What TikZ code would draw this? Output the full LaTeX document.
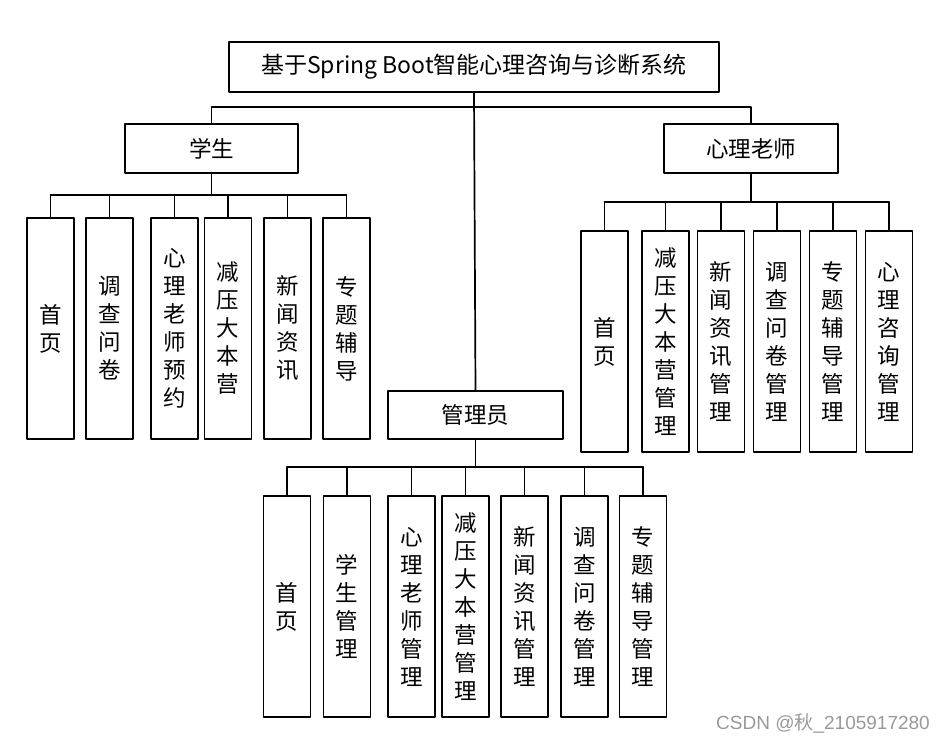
\documentclass[tikz,border=0pt]{standalone}
\usepackage{fontspec}
\setmainfont{Noto Sans CJK SC}
\newfontfamily\cjk{Noto Sans CJK SC}
\newfontfamily\wmfont{Liberation Sans}
\begin{document}
\begin{tikzpicture}[x=1pt, y=-1pt, line join=round, line cap=round, font=\fontsize{22.5}{28}\selectfont]
\tikzset{
  box/.style={draw, line width=1.7pt, inner sep=0pt, align=center},
  leaf/.style={box, minimum width=47pt, minimum height=221pt},
  link/.style={line width=1.7pt}
}
\useasboundingbox (0,0) rectangle (944,741);
% top and second level
\node[box, minimum width=490pt, minimum height=50pt, font=\fontsize{23}{28}\selectfont] (sys) at (474,67) {基于Spring Boot智能心理咨询与诊断系统};
\node[box, minimum width=173pt, minimum height=49pt] (stu) at (211.5,148.5) {学生};
\node[box, minimum width=174pt, minimum height=49pt] (tea) at (751,148.5) {心理老师};
\node[box, minimum width=175pt, minimum height=48pt] (adm) at (475.5,415) {管理员};
% leaves
\foreach \x/\t [count=\i] in {50.5/{首\\页}, 109.5/{调\\查\\问\\卷}, 174.5/{心\\理\\老\\师\\预\\约},
    228/{减\\压\\大\\本\\营}, 287.5/{新\\闻\\资\\讯}, 346.5/{专\\题\\辅\\导}}
  \node[leaf] (s\i) at (\x,328.5) {\t};
\foreach \x/\t [count=\i] in {604.5/{首\\页}, 665.5/{减\\压\\大\\本\\营\\管\\理}, 721/{新\\闻\\资\\讯\\管\\理},
    777/{调\\查\\问\\卷\\管\\理}, 833/{专\\题\\辅\\导\\管\\理}, 889/{心\\理\\咨\\询\\管\\理}}
  \node[leaf] (t\i) at (\x,341.5) {\t};
\foreach \x/\t [count=\i] in {287/{首\\页}, 347/{学\\生\\管\\理}, 411.5/{心\\理\\老\\师\\管\\理},
    465.5/{减\\压\\大\\本\\营\\管\\理}, 524.5/{新\\闻\\资\\讯\\管\\理}, 584.5/{调\\查\\问\\卷\\管\\理}, 643/{专\\题\\辅\\导\\管\\理}}
  \node[leaf] (a\i) at (\x,606.5) {\t};
% buses
\coordinate (mbus) at (0,107);
\coordinate (sbus) at (0,195);
\coordinate (tbus) at (0,202);
\coordinate (abus) at (0,467);
\draw[link] (sys.south) -- (adm.north);
\draw[link] (stu.north) -- (stu.north |- mbus) -- (tea.north |- mbus) -- (tea.north);
\draw[link] (stu.south) -- (stu.south |- sbus);
\draw[link] (s1.north |- sbus) -- (s6.north |- sbus);
\foreach \i in {1,...,6} \draw[link] (s\i.north) -- (s\i.north |- sbus);
\draw[link] (tea.south) -- (tea.south |- tbus);
\draw[link] (t1.north |- tbus) -- (t6.north |- tbus);
\foreach \i in {1,...,6} \draw[link] (t\i.north) -- (t\i.north |- tbus);
\draw[link] (adm.south) -- (adm.south |- abus);
\draw[link] (a1.north |- abus) -- (a7.north |- abus);
\foreach \i in {1,...,7} \draw[link] (a\i.north) -- (a\i.north |- abus);
% watermark
\node[text=black!40, font=\wmfont\fontsize{19}{22}\selectfont, anchor=east, inner sep=0pt] (wm) at (930,723) {CSDN @{\cjk 秋}\_2105917280};
\end{tikzpicture}
\end{document}
